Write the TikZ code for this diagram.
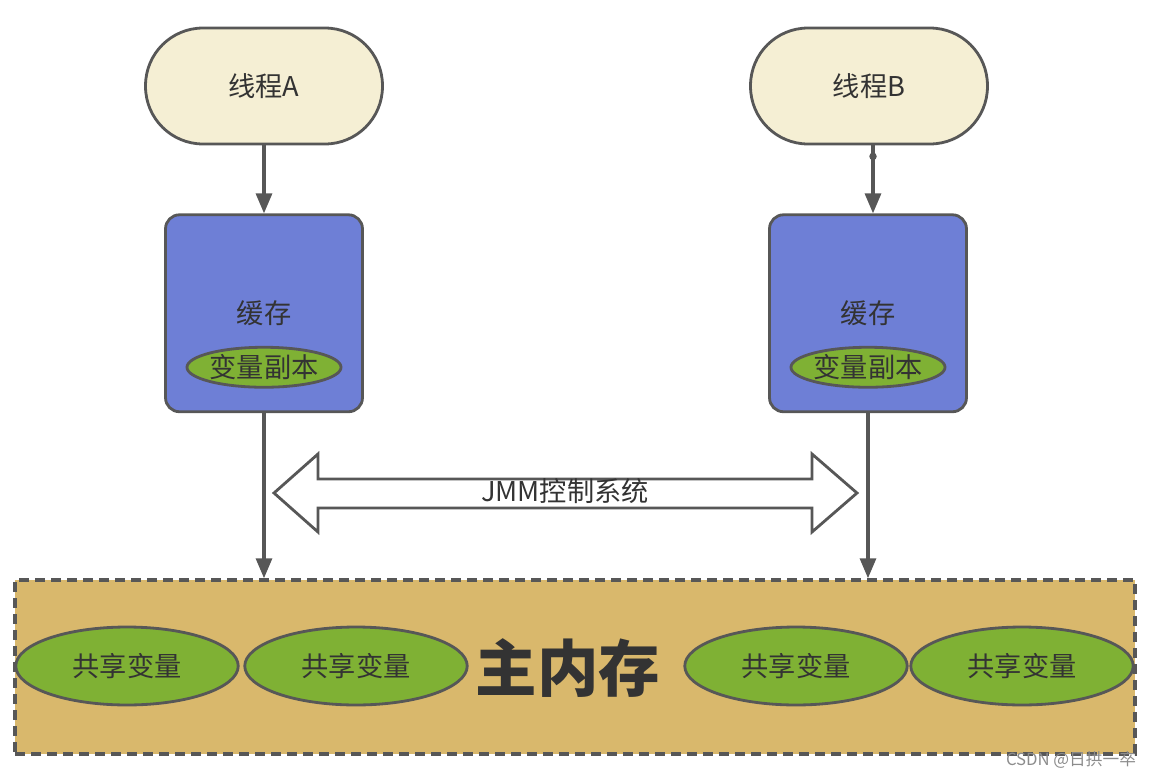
\documentclass[tikz,border=0pt]{standalone}
\usepackage{fontspec}
\setmainfont{Noto Sans CJK SC}
\usetikzlibrary{arrows.meta,positioning,shapes.geometric}
\definecolor{ink}{HTML}{575757}
\definecolor{txt}{HTML}{333333}
\definecolor{cream}{HTML}{F5EFD4}
\definecolor{cachefill}{HTML}{6E7FD6}
\definecolor{leaf}{HTML}{7FB134}
\definecolor{sand}{HTML}{D9B86C}
\newcommand{\lbl}{\fontsize{15.5}{18}\selectfont}

\begin{document}
\begin{tikzpicture}[
  x=0.02cm,y=-0.02cm,
  thread/.style={draw=ink,line width=1.6pt,fill=cream,rounded corners=1.15cm,minimum width=4.74cm,minimum height=2.32cm,text=txt,font=\lbl},
  cachebox/.style={draw=ink,line width=1.6pt,fill=cachefill,rounded corners=0.28cm,minimum width=3.94cm,minimum height=3.94cm,text=txt,font=\lbl},
  copyvar/.style={ellipse,draw=ink,line width=1.6pt,fill=leaf,inner sep=0pt,minimum width=3cm,minimum height=0.8cm,text=txt,font=\lbl},
  shared/.style={ellipse,draw=ink,line width=1.6pt,fill=leaf,inner sep=0pt,minimum width=4.45cm,minimum height=1.56cm,text=txt,font=\lbl},
  arr/.style={-{Triangle[length=0.4cm,width=0.32cm]},line width=1.8pt,draw=ink}
]
\useasboundingbox (0,0) rectangle (1154,778);
% threads and their caches
\node[thread] (thrA) at (264,86) {线程A};
\node[thread] (thrB) at (869,86) {线程B};
\node[cachebox,below=1.36cm of thrA] (cacA) {缓存};
\node[cachebox,below=1.36cm of thrB,xshift=-0.02cm] (cacB) {缓存};
\node[copyvar] (cpA) at ([yshift=-1.08cm]cacA.center) {变量副本};
\node[copyvar] (cpB) at ([yshift=-1.08cm]cacB.center) {变量副本};
% main memory
\node[draw=ink,fill=sand,line width=2pt,dash pattern=on 0.2cm off 0.12cm,minimum width=22.4cm,minimum height=3.48cm] (mem) at (575,667) {};
\foreach \x/\n in {127/shA,356/shB,796/shC,1022/shD}
  \node[shared] (\n) at (\x,666) {共享变量};
\node[text=txt,font=\fontsize{35}{40}\selectfont\bfseries] (mainlbl) at (568,668) {主内存};
% JMM
\draw[ink,line width=1.6pt,fill=white] (274,493) -- (318,454) -- (318,479) -- (812,479) -- (812,454) -- (857,493)
  -- (812,532) -- (812,508) -- (318,508) -- (318,532) -- cycle;
\node[text=txt,font=\lbl] (jmm) at (565,491) {JMM控制系统};
% connectors
\coordinate (outB) at ([xshift=0.08cm]thrB.south);
\coordinate (dotB) at ([yshift=-0.22cm]outB);
\draw[arr] (thrA) -- (cacA);
\draw[arr] (outB) -- (outB |- cacB.north);
\fill[ink] (dotB) circle (0.075cm);
\draw[arr] (cacA) -- (cacA |- mem.north);
\draw[arr] (cacB) -- (cacB |- mem.north);
% watermark
\node[text=black!45,font=\fontsize{9.5}{11}\selectfont] (wm) at (1071,760) {CSDN @日拱一卒};
\end{tikzpicture}
\end{document}
